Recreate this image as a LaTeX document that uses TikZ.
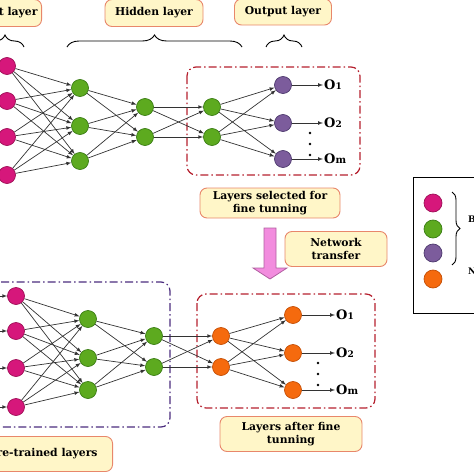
\documentclass[tikz,border=0pt]{standalone}
\usepackage{fontspec}
\setmainfont{DejaVu Serif}
\usetikzlibrary{arrows,positioning,decorations.pathreplacing}

\definecolor{inmag}{HTML}{D6177B}
\definecolor{inmagd}{HTML}{9E1057}
\definecolor{hidgreen}{HTML}{5DAA1F}
\definecolor{hidgreend}{HTML}{3A7D14}
\definecolor{outpurp}{HTML}{7C5C9C}
\definecolor{outpurpd}{HTML}{4E3A6E}
\definecolor{tuneorange}{HTML}{F56A0E}
\definecolor{tuneoranged}{HTML}{C44E05}
\definecolor{tagfill}{HTML}{FFF6C8}
\definecolor{tagline}{HTML}{E8876B}
\definecolor{selred}{HTML}{B5202E}
\definecolor{prepurp}{HTML}{4B2C7E}
\definecolor{arrowpink}{HTML}{F28CDE}
\definecolor{arrowpinkd}{HTML}{B060A0}

\begin{document}
\begin{tikzpicture}
    \tikzset{x=1pt,y=-1pt,every path/.style={>=latex},
      neuron/.style={circle,draw,line width=0.7pt,minimum size=17pt,inner sep=0pt},
      in node/.style={neuron,fill=inmag,draw=inmagd},
      hid node/.style={neuron,fill=hidgreen,draw=hidgreend},
      out node/.style={neuron,fill=outpurp,draw=outpurpd},
      tune node/.style={neuron,fill=tuneorange,draw=tuneoranged},
      tag/.style={draw=tagline,fill=tagfill,rounded corners=7pt,line width=0.9pt,
        font=\bfseries\fontsize{10.8}{12.5}\selectfont,align=center,inner sep=2pt},
      conn/.style={->,draw=black!80,line width=0.7pt},
      olabel/.style={anchor=west,font=\bfseries\fontsize{13}{14}\selectfont,inner sep=1pt},
      layer brace/.style={decorate,decoration={brace,amplitude=12pt},line width=0.9pt},
      selbox/.style={draw=selred,line width=1.2pt,rounded corners=9pt,
        dash pattern=on 8pt off 3pt on 1.5pt off 3pt},
      prebox/.style={draw=prepurp,line width=1.2pt,rounded corners=9pt,
        dash pattern=on 8pt off 3pt on 1.5pt off 3pt}}
    \useasboundingbox (0,0) rectangle (474,474);
    \clip (0,0) rectangle (474,474);

    % layer tags and braces
    \node [tag,anchor=east,inner xsep=4pt,minimum height=27pt] (tin) at (42,13) {Input layer};
    \node [tag,minimum width=98pt,minimum height=27pt] (thid) at (154,13) {Hidden layer};
    \node [tag,minimum width=97pt,minimum height=26pt] (tout) at (283,12) {Output layer};
    \draw [layer brace] (-14,47) -- (24,47);
    \draw [layer brace] (67,47) -- (242,47);
    \draw [layer brace] (266,47) -- (302,47);

    % source network
    \draw [selbox] (187,67) rectangle (360,175);
    \node [in node] (i1) at (7,66) {};
    \node [in node] (i2) at (7,101) {};
    \node [in node] (i3) at (7,137) {};
    \node [in node] (i4) at (7,175) {};
    \node [hid node] (a1) at (80,88) {};
    \node [hid node] (a2) at (80,126) {};
    \node [hid node] (a3) at (80,161) {};
    \node [hid node] (b1) at (145,107) {};
    \node [hid node] (b2) at (145,137) {};
    \node [hid node] (c1) at (212,107) {};
    \node [hid node] (c2) at (212,137) {};
    \node [out node] (o1) at (283,85) {};
    \node [out node] (o2) at (283,123) {};
    \node [out node] (o3) at (283,159) {};
    \foreach \s in {1,...,4} \foreach \t in {1,2,3} \draw [conn] (i\s) -- (a\t);
    \foreach \s in {1,2,3} \foreach \t in {1,2} \draw [conn] (a\s) -- (b\t);
    \foreach \s in {1,2} \foreach \t in {1,2} \draw [conn] (b\s) -- (c\t);
    \foreach \s in {1,2} \foreach \t in {1,2,3} \draw [conn] (c\s) -- (o\t);
    \node [olabel] (y1) at (323,85) {O{\fontsize{9}{10}\selectfont 1}};
    \node [olabel] (y2) at (323,123) {O{\fontsize{9}{10}\selectfont 2}};
    \node [olabel] (y3) at (323,159) {O{\fontsize{10}{10}\selectfont m}};
    \foreach \t in {1,2,3} \draw [conn] (o\t) -- (y\t.west);
    \foreach \d in {133,144,155} \fill (310,\d) circle (1.3pt);
    \node [tag,minimum width=140pt,minimum height=30pt] (tsel) at (270,203)
      {Layers selected for\\fine tunning};

    % transfer
    \draw [fill=arrowpink,draw=arrowpinkd,line width=0.8pt]
      (264,228) -- (276,228) -- (276,268) -- (287,268) -- (270,279)
      -- (253,268) -- (264,268) -- cycle;
    \node [tag,minimum width=102pt,minimum height=35pt] (tnet) at (336,249)
      {Network\\transfer};

    % target network
    \draw [prebox] (-20,282) rectangle (170,427);
    \draw [selbox] (197,294) rectangle (375,408);
    \node [in node] (p1) at (16,296) {};
    \node [in node] (p2) at (16,331) {};
    \node [in node] (p3) at (16,368) {};
    \node [in node] (p4) at (16,407) {};
    \foreach \s in {1,...,4} {
      \coordinate (x\s) at (-10,0 |- p\s);
      \draw [conn] (x\s) -- (p\s);
    }
    \node [hid node] (d1) at (88,319) {};
    \node [hid node] (d2) at (88,358) {};
    \node [hid node] (d3) at (88,390) {};
    \node [hid node] (e1) at (154,336) {};
    \node [hid node] (e2) at (154,367) {};
    \node [tune node] (f1) at (221,336) {};
    \node [tune node] (f2) at (221,367) {};
    \node [tune node] (g1) at (293,315) {};
    \node [tune node] (g2) at (293,353) {};
    \node [tune node] (g3) at (293,390) {};
    \foreach \s in {1,...,4} \foreach \t in {1,2,3} \draw [conn] (p\s) -- (d\t);
    \foreach \s in {1,2,3} \foreach \t in {1,2} \draw [conn] (d\s) -- (e\t);
    \foreach \s in {1,2} \foreach \t in {1,2} \draw [conn] (e\s) -- (f\t);
    \foreach \s in {1,2} \foreach \t in {1,2,3} \draw [conn] (f\s) -- (g\t);
    \node [olabel] (z1) at (335,315) {O{\fontsize{9}{10}\selectfont 1}};
    \node [olabel] (z2) at (335,353) {O{\fontsize{9}{10}\selectfont 2}};
    \node [olabel] (z3) at (335,390) {O{\fontsize{10}{10}\selectfont m}};
    \foreach \t in {1,2,3} \draw [conn] (g\t) -- (z\t.west);
    \foreach \d in {363,374,385} \fill (318,\d) circle (1.3pt);
    \node [tag,anchor=east,inner xsep=15pt,minimum height=35pt] (tpre) at (113,454) {Pre-trained layers};
    \node [tag,minimum width=142pt,minimum height=35pt] (tafter) at (291,434)
      {Layers after fine\\tunning};

    % legend
    \draw [line width=1pt] (413,177) rectangle (500,313);
    \node [in node,minimum size=18pt] (l1) at (433,203) {};
    \node [hid node,minimum size=18pt] (l2) at (433,229) {};
    \node [out node,minimum size=18pt] (l3) at (433,253) {};
    \node [tune node,minimum size=18pt] (l4) at (433,279) {};
    \draw [decorate,decoration={brace,amplitude=8pt},line width=0.9pt] (452,192) -- (452,265);
    \node [anchor=west,font=\bfseries\small,inner sep=0pt] (lb) at (468,220) {Base layers};
    \node [anchor=west,font=\bfseries\small,inner sep=0pt] (ln) at (468,272) {New layers};
\end{tikzpicture}
\end{document}
